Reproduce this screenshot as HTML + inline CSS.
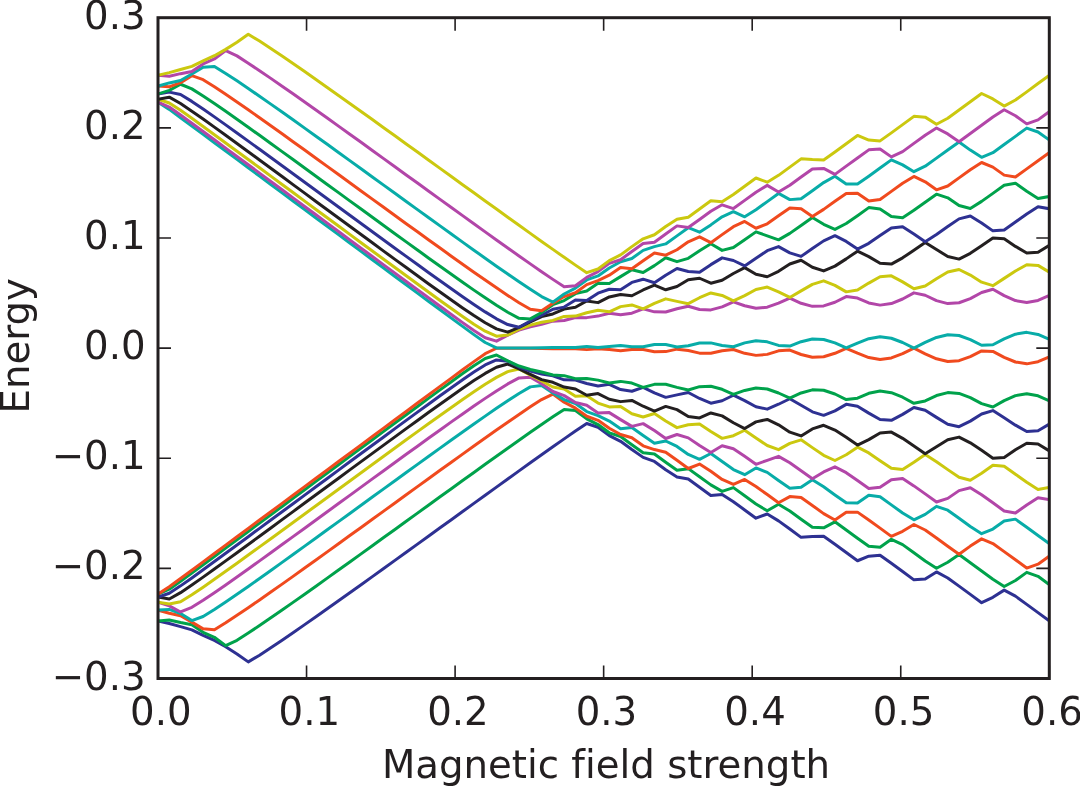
<!DOCTYPE html><html><head><meta charset="utf-8"><style>html,body{margin:0;padding:0;background:#fff;}svg{display:block;}text{font-family:"DejaVu Sans","Liberation Sans",sans-serif;fill:#231f20;font-variant-ligatures:none;font-feature-settings:"liga" 0,"clig" 0;}</style></head><body>
<svg width="1080" height="786" viewBox="0 0 1080 786">
<rect width="1080" height="786" fill="#fff"/>
<defs><clipPath id="c"><rect x="158.00" y="17.70" width="891.30" height="660.80"/></clipPath></defs>
<g clip-path="url(#c)" fill="none" stroke-width="3.0" stroke-linejoin="round" stroke-linecap="square">
<polyline stroke="#2e3192" points="158.00,621.01 169.28,623.54 180.56,626.64 191.85,629.83 203.13,635.31 214.41,640.48 225.69,646.81 236.98,653.95 248.26,661.88 259.54,655.19 270.82,647.77 282.11,640.17 293.39,632.44 304.67,624.62 315.95,616.72 327.23,608.77 338.52,600.78 349.80,592.75 361.08,584.69 372.36,576.61 383.65,568.51 394.93,560.39 406.21,552.26 417.49,544.12 428.77,535.98 440.06,527.83 451.34,519.68 462.62,511.53 473.90,503.39 485.19,495.25 496.47,487.12 507.75,479.00 519.03,470.90 530.32,462.83 541.60,454.79 552.88,446.80 564.16,438.88 575.44,431.07 586.73,423.50 598.01,427.21 609.29,435.56 620.57,441.29 631.86,449.56 643.14,457.36 654.42,461.44 665.70,469.70 676.98,476.91 688.27,479.03 699.55,487.22 710.83,495.50 722.11,494.42 733.40,501.70 744.68,509.93 755.96,518.21 767.24,514.02 778.53,520.86 789.81,529.07 801.09,537.34 812.37,536.61 823.65,536.19 834.94,544.24 846.22,552.48 857.50,560.76 868.78,556.13 880.07,555.31 891.35,563.33 902.63,571.58 913.91,579.85 925.19,579.06 936.48,571.91 947.76,577.95 959.04,586.14 970.32,594.41 981.61,602.69 992.89,597.31 1004.17,590.12 1015.45,596.15 1026.74,604.35 1038.02,612.62 1049.30,620.91"/>
<polyline stroke="#00a24b" points="158.00,621.01 169.28,619.93 180.56,622.54 191.85,624.70 203.13,632.27 214.41,637.28 225.69,645.61 236.98,640.32 248.26,633.04 259.54,625.51 270.82,617.82 282.11,610.02 293.39,602.13 304.67,594.18 315.95,586.17 327.23,578.13 338.52,570.06 349.80,561.97 361.08,553.86 372.36,545.73 383.65,537.59 394.93,529.44 406.21,521.29 417.49,513.14 428.77,504.99 440.06,496.84 451.34,488.69 462.62,480.56 473.90,472.44 485.19,464.34 496.47,456.27 507.75,448.23 519.03,440.24 530.32,432.32 541.60,424.50 552.88,416.83 564.16,409.46 575.44,410.50 586.73,418.81 598.01,424.56 609.29,432.83 620.57,436.46 631.86,444.70 643.14,452.79 654.42,454.01 665.70,462.23 676.98,470.32 688.27,468.65 699.55,476.70 710.83,484.89 722.11,491.38 733.40,487.62 744.68,495.83 755.96,504.01 767.24,510.83 778.53,504.21 789.81,510.98 801.09,519.19 812.37,527.25 823.65,527.81 834.94,521.82 846.22,530.04 857.50,538.26 868.78,546.33 880.07,547.24 891.35,539.34 902.63,544.59 913.91,552.83 925.19,561.02 936.48,568.24 947.76,562.28 959.04,554.52 970.32,562.76 981.61,571.01 992.89,579.21 1004.17,586.46 1015.45,580.48 1026.74,572.35 1038.02,576.33 1049.30,584.59"/>
<polyline stroke="#f04a1e" points="158.00,610.08 169.28,613.28 180.56,615.76 191.85,622.16 203.13,628.87 214.41,629.71 225.69,622.74 236.98,615.35 248.26,607.73 259.54,599.95 270.82,592.07 282.11,584.12 293.39,576.11 304.67,568.05 315.95,559.97 327.23,551.86 338.52,543.72 349.80,535.58 361.08,527.42 372.36,519.26 383.65,511.10 394.93,502.93 406.21,494.76 417.49,486.60 428.77,478.45 440.06,470.31 451.34,462.19 462.62,454.10 473.90,446.03 485.19,438.01 496.47,430.05 507.75,422.17 519.03,414.41 530.32,406.85 541.60,399.60 552.88,394.06 564.16,402.17 575.44,408.11 586.73,416.28 598.01,420.30 609.29,428.24 620.57,434.45 631.86,437.72 643.14,445.81 654.42,449.56 665.70,452.29 676.98,460.31 688.27,468.49 699.55,464.06 710.83,471.31 722.11,479.43 733.40,484.46 744.68,479.44 755.96,486.48 767.24,494.58 778.53,502.77 789.81,496.58 801.09,497.55 812.37,505.45 823.65,513.61 834.94,519.94 846.22,512.18 857.50,512.13 868.78,519.98 880.07,528.14 891.35,536.36 902.63,531.31 913.91,524.50 925.19,530.00 936.48,538.08 947.76,546.28 959.04,554.18 970.32,546.10 981.61,538.88 992.89,543.54 1004.17,551.62 1015.45,559.83 1026.74,568.07 1038.02,564.19 1049.30,556.18"/>
<polyline stroke="#08aca8" points="158.00,610.08 169.28,609.38 180.56,613.52 191.85,620.57 203.13,616.52 214.41,609.46 225.69,601.99 236.98,594.28 248.26,586.42 259.54,578.47 270.82,570.45 282.11,562.38 293.39,554.27 304.67,546.13 315.95,537.98 327.23,529.81 338.52,521.63 349.80,513.45 361.08,505.26 372.36,497.07 383.65,488.88 394.93,480.70 406.21,472.53 417.49,464.37 428.77,456.23 440.06,448.11 451.34,440.03 462.62,431.99 473.90,424.01 485.19,416.12 496.47,408.35 507.75,400.78 519.03,393.52 530.32,386.87 541.60,385.50 552.88,392.88 564.16,399.62 575.44,403.54 586.73,411.58 598.01,415.60 609.29,421.04 620.57,428.80 631.86,427.50 643.14,435.50 654.42,443.20 665.70,440.98 676.98,446.47 688.27,454.43 699.55,459.32 710.83,453.51 722.11,461.55 733.40,469.52 744.68,474.73 755.96,467.94 767.24,472.38 778.53,480.44 789.81,488.19 801.09,487.35 812.37,479.66 823.65,486.83 834.94,494.92 846.22,502.75 857.50,502.89 868.78,495.17 880.07,496.72 891.35,504.85 902.63,512.93 913.91,519.79 925.19,514.36 936.48,506.38 947.76,510.18 959.04,518.34 970.32,526.45 981.61,533.70 992.89,529.09 1004.17,521.08 1015.45,519.14 1026.74,527.33 1038.02,535.51 1049.30,543.54"/>
<polyline stroke="#b246a8" points="158.00,602.25 169.28,605.86 180.56,611.96 191.85,607.33 203.13,600.26 214.41,592.72 225.69,584.93 236.98,576.99 248.26,568.96 259.54,560.88 270.82,552.75 282.11,544.59 293.39,536.40 304.67,528.21 315.95,520.00 327.23,511.78 338.52,503.56 349.80,495.34 361.08,487.12 372.36,478.91 383.65,470.70 394.93,462.51 406.21,454.33 417.49,446.17 428.77,438.04 440.06,429.95 451.34,421.90 462.62,413.93 473.90,406.07 485.19,398.37 496.47,390.92 507.75,383.94 519.03,377.89 530.32,377.28 541.60,383.72 552.88,391.49 564.16,395.63 575.44,402.58 586.73,405.26 598.01,413.04 609.29,412.62 620.57,419.60 631.86,426.38 643.14,423.63 654.42,430.59 665.70,438.46 676.98,434.54 688.27,437.88 699.55,445.54 710.83,452.48 722.11,445.80 733.40,448.70 744.68,456.34 755.96,464.32 767.24,460.38 778.53,456.35 789.81,462.81 801.09,470.68 812.37,478.73 823.65,471.94 834.94,466.80 846.22,472.67 857.50,480.53 868.78,488.59 880.07,487.23 891.35,479.69 902.63,478.56 913.91,485.90 925.19,493.90 936.48,502.02 947.76,498.37 959.04,490.63 970.32,487.77 981.61,494.83 992.89,502.84 1004.17,510.97 1015.45,512.99 1026.74,504.97 1038.02,497.67 1049.30,499.69"/>
<polyline stroke="#cbc80f" points="158.00,602.25 169.28,604.09 180.56,601.75 191.85,594.80 203.13,587.21 214.41,579.34 225.69,571.33 236.98,563.24 248.26,555.09 259.54,546.90 270.82,538.69 282.11,530.46 293.39,522.22 304.67,513.97 315.95,505.72 327.23,497.46 338.52,489.21 349.80,480.95 361.08,472.71 372.36,464.47 383.65,456.24 394.93,448.02 406.21,439.83 417.49,431.66 428.77,423.53 440.06,415.44 451.34,407.43 462.62,399.52 473.90,391.78 485.19,384.32 496.47,377.40 507.75,371.62 519.03,368.98 530.32,375.24 541.60,380.95 552.88,387.00 564.16,389.10 575.44,396.25 586.73,395.75 598.01,403.05 609.29,406.92 620.57,406.43 631.86,413.77 643.14,417.01 654.42,413.47 665.70,420.95 676.98,427.64 688.27,424.70 699.55,423.97 710.83,431.56 722.11,438.35 733.40,435.68 744.68,430.25 755.96,437.94 767.24,445.52 778.53,449.63 789.81,443.38 801.09,439.83 812.37,447.63 823.65,455.32 834.94,460.49 846.22,454.75 857.50,447.14 868.78,452.90 880.07,460.77 891.35,468.29 902.63,469.45 913.91,462.23 925.19,454.44 936.48,461.68 947.76,469.62 959.04,477.32 970.32,480.20 981.61,473.21 992.89,465.34 1004.17,466.19 1015.45,474.21 1026.74,482.17 1038.02,489.45 1049.30,487.45"/>
<polyline stroke="#231f20" points="158.00,597.05 169.28,599.05 180.56,592.64 191.85,585.07 203.13,577.14 214.41,569.06 225.69,560.90 236.98,552.69 248.26,544.45 259.54,536.19 270.82,527.92 282.11,519.64 293.39,511.35 304.67,503.06 315.95,494.77 327.23,486.48 338.52,478.20 349.80,469.91 361.08,461.64 372.36,453.37 383.65,445.11 394.93,436.86 406.21,428.64 417.49,420.44 428.77,412.28 440.06,404.18 451.34,396.16 462.62,388.27 473.90,380.61 485.19,373.41 496.47,367.27 507.75,364.04 519.03,368.89 530.32,374.28 541.60,379.66 552.88,382.26 564.16,387.08 575.44,388.98 586.73,395.27 598.01,393.56 609.29,399.24 620.57,401.63 631.86,400.42 643.14,406.24 654.42,411.05 665.70,406.42 676.98,409.65 688.27,416.50 699.55,417.95 710.83,412.99 722.11,415.89 733.40,422.74 744.68,428.56 755.96,421.87 767.24,419.45 778.53,424.86 789.81,432.16 801.09,435.94 812.37,428.93 823.65,425.30 834.94,430.07 846.22,437.33 857.50,445.04 868.78,439.60 880.07,432.94 891.35,432.10 902.63,438.36 913.91,445.91 925.19,453.74 936.48,446.74 947.76,439.67 959.04,437.11 970.32,442.83 981.61,450.35 992.89,458.21 1004.17,457.45 1015.45,449.78 1026.74,443.26 1038.02,443.98 1049.30,450.84"/>
<polyline stroke="#2e3192" points="158.00,597.05 169.28,593.24 180.56,585.86 191.85,577.90 203.13,569.75 214.41,561.53 225.69,553.27 236.98,544.98 248.26,536.69 259.54,528.38 270.82,520.06 282.11,511.74 293.39,503.42 304.67,495.10 315.95,486.78 327.23,478.46 338.52,470.15 349.80,461.83 361.08,453.52 372.36,445.22 383.65,436.93 394.93,428.65 406.21,420.38 417.49,412.14 428.77,403.93 440.06,395.76 451.34,387.68 462.62,379.72 473.90,372.03 485.19,364.98 496.47,359.99 507.75,361.15 519.03,366.98 530.32,371.12 541.60,374.02 552.88,375.80 564.16,379.79 575.44,380.09 586.73,383.50 598.01,385.99 609.29,384.35 620.57,389.59 631.86,391.29 643.14,387.38 654.42,392.87 665.70,397.34 676.98,394.86 688.27,392.52 699.55,398.49 710.83,403.22 722.11,400.76 733.40,395.23 744.68,400.56 755.96,406.75 767.24,409.14 778.53,404.23 789.81,398.75 801.09,405.28 812.37,411.81 823.65,415.34 834.94,410.84 846.22,404.34 857.50,406.20 868.78,413.12 880.07,419.49 891.35,420.33 902.63,414.35 913.91,407.49 925.19,410.22 936.48,417.37 947.76,424.17 959.04,426.68 970.32,421.11 981.61,414.03 992.89,410.56 1004.17,417.83 1015.45,425.15 1026.74,431.51 1038.02,430.79 1049.30,424.12"/>
<polyline stroke="#00a24b" points="158.00,594.10 169.28,589.17 180.56,581.22 191.85,573.02 203.13,564.74 214.41,556.43 225.69,548.11 236.98,539.78 248.26,531.44 259.54,523.10 270.82,514.76 282.11,506.42 293.39,498.07 304.67,489.73 315.95,481.38 327.23,473.04 338.52,464.70 349.80,456.36 361.08,448.02 372.36,439.69 383.65,431.36 394.93,423.04 406.21,414.72 417.49,406.42 428.77,398.14 440.06,389.89 451.34,381.69 462.62,373.59 473.90,365.69 485.19,358.45 496.47,355.03 507.75,360.95 519.03,366.04 530.32,369.43 541.60,372.02 552.88,375.04 564.16,375.65 575.44,378.63 586.73,378.57 598.01,380.12 609.29,382.99 620.57,381.39 631.86,383.05 643.14,387.33 654.42,384.33 665.70,384.27 676.98,387.38 688.27,390.01 699.55,386.64 710.83,386.32 722.11,389.28 733.40,394.40 744.68,390.45 755.96,388.00 767.24,389.00 778.53,393.01 789.81,398.15 801.09,392.93 812.37,389.87 823.65,390.27 834.94,393.97 846.22,399.61 857.50,398.16 868.78,393.27 880.07,391.08 891.35,392.65 902.63,397.20 913.91,403.34 925.19,400.97 936.48,395.57 947.76,392.59 959.04,393.43 970.32,397.63 981.61,403.67 992.89,407.00 1004.17,400.58 1015.45,395.61 1026.74,393.66 1038.02,395.78 1049.30,400.84"/>
<polyline stroke="#f04a1e" points="158.00,594.10 169.28,586.79 180.56,578.52 191.85,570.19 203.13,561.85 214.41,553.50 225.69,545.15 236.98,536.79 248.26,528.43 259.54,520.07 270.82,511.71 282.11,503.35 293.39,494.99 304.67,486.63 315.95,478.27 327.23,469.92 338.52,461.56 349.80,453.20 361.08,444.84 372.36,436.49 383.65,428.13 394.93,419.78 406.21,411.43 417.49,403.08 428.77,394.74 440.06,386.41 451.34,378.09 462.62,369.81 473.90,361.61 485.19,353.70 496.47,348.25 507.75,348.13 519.03,348.22 530.32,348.20 541.60,348.44 552.88,348.63 564.16,348.79 575.44,348.70 586.73,349.63 598.01,348.64 609.29,349.61 620.57,350.64 631.86,349.40 643.14,349.48 654.42,351.66 665.70,351.61 676.98,349.14 688.27,350.51 699.55,353.13 710.83,353.29 722.11,350.73 733.40,349.48 744.68,353.32 755.96,355.37 767.24,354.38 778.53,350.81 789.81,350.08 801.09,354.51 812.37,357.19 823.65,356.73 834.94,353.29 846.22,348.30 857.50,353.16 868.78,357.55 880.07,359.52 891.35,357.97 902.63,353.68 913.91,348.13 925.19,353.81 936.48,358.77 947.76,361.53 959.04,360.67 970.32,356.62 981.61,350.96 992.89,351.41 1004.17,357.33 1015.45,362.01 1026.74,363.85 1038.02,361.74 1049.30,356.84"/>
<polyline stroke="#08aca8" points="158.00,102.10 169.28,109.41 180.56,117.68 191.85,126.01 203.13,134.35 214.41,142.70 225.69,151.05 236.98,159.41 248.26,167.77 259.54,176.13 270.82,184.49 282.11,192.85 293.39,201.21 304.67,209.57 315.95,217.93 327.23,226.28 338.52,234.64 349.80,243.00 361.08,251.36 372.36,259.71 383.65,268.07 394.93,276.42 406.21,284.77 417.49,293.12 428.77,301.46 440.06,309.79 451.34,318.11 462.62,326.39 473.90,334.59 485.19,342.50 496.47,347.95 507.75,348.07 519.03,347.98 530.32,348.00 541.60,347.76 552.88,347.57 564.16,347.41 575.44,347.50 586.73,346.57 598.01,347.56 609.29,346.59 620.57,345.56 631.86,346.80 643.14,346.72 654.42,344.54 665.70,344.59 676.98,347.06 688.27,345.69 699.55,343.07 710.83,342.91 722.11,345.47 733.40,346.72 744.68,342.88 755.96,340.83 767.24,341.82 778.53,345.39 789.81,346.12 801.09,341.69 812.37,339.01 823.65,339.47 834.94,342.91 846.22,347.90 857.50,343.04 868.78,338.65 880.07,336.68 891.35,338.23 902.63,342.52 913.91,348.07 925.19,342.39 936.48,337.43 947.76,334.67 959.04,335.53 970.32,339.58 981.61,345.24 992.89,344.79 1004.17,338.87 1015.45,334.19 1026.74,332.35 1038.02,334.46 1049.30,339.36"/>
<polyline stroke="#b246a8" points="158.00,102.10 169.28,107.03 180.56,114.98 191.85,123.18 203.13,131.46 214.41,139.77 225.69,148.09 236.98,156.42 248.26,164.76 259.54,173.10 270.82,181.44 282.11,189.78 293.39,198.13 304.67,206.47 315.95,214.82 327.23,223.16 338.52,231.50 349.80,239.84 361.08,248.18 372.36,256.51 383.65,264.84 394.93,273.16 406.21,281.48 417.49,289.78 428.77,298.06 440.06,306.31 451.34,314.51 462.62,322.61 473.90,330.51 485.19,337.75 496.47,341.17 507.75,335.25 519.03,330.16 530.32,326.77 541.60,324.18 552.88,321.16 564.16,320.55 575.44,317.57 586.73,317.63 598.01,316.08 609.29,313.21 620.57,314.81 631.86,313.15 643.14,308.87 654.42,311.87 665.70,311.93 676.98,308.82 688.27,306.19 699.55,309.56 710.83,309.88 722.11,306.92 733.40,301.80 744.68,305.75 755.96,308.20 767.24,307.20 778.53,303.19 789.81,298.05 801.09,303.27 812.37,306.33 823.65,305.93 834.94,302.23 846.22,296.59 857.50,298.04 868.78,302.93 880.07,305.12 891.35,303.55 902.63,299.00 913.91,292.86 925.19,295.23 936.48,300.63 947.76,303.61 959.04,302.77 970.32,298.57 981.61,292.53 992.89,289.20 1004.17,295.62 1015.45,300.59 1026.74,302.54 1038.02,300.42 1049.30,295.36"/>
<polyline stroke="#cbc80f" points="158.00,99.15 169.28,102.96 180.56,110.34 191.85,118.30 203.13,126.45 214.41,134.67 225.69,142.93 236.98,151.22 248.26,159.51 259.54,167.82 270.82,176.14 282.11,184.46 293.39,192.78 304.67,201.10 315.95,209.42 327.23,217.74 338.52,226.05 349.80,234.37 361.08,242.68 372.36,250.98 383.65,259.27 394.93,267.55 406.21,275.82 417.49,284.06 428.77,292.27 440.06,300.44 451.34,308.52 462.62,316.48 473.90,324.17 485.19,331.22 496.47,336.21 507.75,335.05 519.03,329.22 530.32,325.08 541.60,322.18 552.88,320.40 564.16,316.41 575.44,316.11 586.73,312.70 598.01,310.21 609.29,311.85 620.57,306.61 631.86,304.91 643.14,308.82 654.42,303.33 665.70,298.86 676.98,301.34 688.27,303.68 699.55,297.71 710.83,292.98 722.11,295.44 733.40,300.97 744.68,295.64 755.96,289.45 767.24,287.06 778.53,291.97 789.81,297.45 801.09,290.92 812.37,284.39 823.65,280.86 834.94,285.36 846.22,291.86 857.50,290.00 868.78,283.08 880.07,276.71 891.35,275.87 902.63,281.85 913.91,288.71 925.19,285.98 936.48,278.83 947.76,272.03 959.04,269.52 970.32,275.09 981.61,282.17 992.89,285.64 1004.17,278.37 1015.45,271.05 1026.74,264.69 1038.02,265.41 1049.30,272.08"/>
<polyline stroke="#231f20" points="158.00,99.15 169.28,97.15 180.56,103.56 191.85,111.13 203.13,119.06 214.41,127.14 225.69,135.30 236.98,143.51 248.26,151.75 259.54,160.01 270.82,168.28 282.11,176.56 293.39,184.85 304.67,193.14 315.95,201.43 327.23,209.72 338.52,218.00 349.80,226.29 361.08,234.56 372.36,242.83 383.65,251.09 394.93,259.34 406.21,267.56 417.49,275.76 428.77,283.92 440.06,292.02 451.34,300.04 462.62,307.93 473.90,315.59 485.19,322.79 496.47,328.93 507.75,332.16 519.03,327.31 530.32,321.92 541.60,316.54 552.88,313.94 564.16,309.12 575.44,307.22 586.73,300.93 598.01,302.64 609.29,296.96 620.57,294.57 631.86,295.78 643.14,289.96 654.42,285.15 665.70,289.78 676.98,286.55 688.27,279.70 699.55,278.25 710.83,283.21 722.11,280.31 733.40,273.46 744.68,267.64 755.96,274.33 767.24,276.75 778.53,271.34 789.81,264.04 801.09,260.26 812.37,267.27 823.65,270.90 834.94,266.13 846.22,258.87 857.50,251.16 868.78,256.60 880.07,263.26 891.35,264.10 902.63,257.84 913.91,250.29 925.19,242.46 936.48,249.46 947.76,256.53 959.04,259.09 970.32,253.37 981.61,245.85 992.89,237.99 1004.17,238.75 1015.45,246.42 1026.74,252.94 1038.02,252.22 1049.30,245.36"/>
<polyline stroke="#2e3192" points="158.00,93.95 169.28,92.11 180.56,94.45 191.85,101.40 203.13,108.99 214.41,116.86 225.69,124.87 236.98,132.96 248.26,141.11 259.54,149.30 270.82,157.51 282.11,165.74 293.39,173.98 304.67,182.23 315.95,190.48 327.23,198.74 338.52,206.99 349.80,215.25 361.08,223.49 372.36,231.73 383.65,239.96 394.93,248.18 406.21,256.37 417.49,264.54 428.77,272.67 440.06,280.76 451.34,288.77 462.62,296.68 473.90,304.42 485.19,311.88 496.47,318.80 507.75,324.58 519.03,327.22 530.32,320.96 541.60,315.25 552.88,309.20 564.16,307.10 575.44,299.95 586.73,300.45 598.01,293.15 609.29,289.28 620.57,289.77 631.86,282.43 643.14,279.19 654.42,282.73 665.70,275.25 676.98,268.56 688.27,271.50 699.55,272.23 710.83,264.64 722.11,257.85 733.40,260.52 744.68,265.95 755.96,258.26 767.24,250.68 778.53,246.57 789.81,252.82 801.09,256.37 812.37,248.57 823.65,240.88 834.94,235.71 846.22,241.45 857.50,249.06 868.78,243.30 880.07,235.43 891.35,227.91 902.63,226.75 913.91,233.97 925.19,241.76 936.48,234.52 947.76,226.58 959.04,218.88 970.32,216.00 981.61,222.99 992.89,230.86 1004.17,230.01 1015.45,221.99 1026.74,214.03 1038.02,206.75 1049.30,208.75"/>
<polyline stroke="#00a24b" points="158.00,93.95 169.28,90.34 180.56,84.24 191.85,88.87 203.13,95.94 214.41,103.48 225.69,111.27 236.98,119.21 248.26,127.24 259.54,135.32 270.82,143.45 282.11,151.61 293.39,159.80 304.67,167.99 315.95,176.20 327.23,184.42 338.52,192.64 349.80,200.86 361.08,209.08 372.36,217.29 383.65,225.50 394.93,233.69 406.21,241.87 417.49,250.03 428.77,258.16 440.06,266.25 451.34,274.30 462.62,282.27 473.90,290.13 485.19,297.83 496.47,305.28 507.75,312.26 519.03,318.31 530.32,318.92 541.60,312.48 552.88,304.71 564.16,300.57 575.44,293.62 586.73,290.94 598.01,283.16 609.29,283.58 620.57,276.60 631.86,269.82 643.14,272.57 654.42,265.61 665.70,257.74 676.98,261.66 688.27,258.32 699.55,250.66 710.83,243.72 722.11,250.40 733.40,247.50 744.68,239.86 755.96,231.88 767.24,235.82 778.53,239.85 789.81,233.39 801.09,225.52 812.37,217.47 823.65,224.26 834.94,229.40 846.22,223.53 857.50,215.67 868.78,207.61 880.07,208.97 891.35,216.51 902.63,217.64 913.91,210.30 925.19,202.30 936.48,194.18 947.76,197.83 959.04,205.57 970.32,208.43 981.61,201.37 992.89,193.36 1004.17,185.23 1015.45,183.21 1026.74,191.23 1038.02,198.53 1049.30,196.51"/>
<polyline stroke="#f04a1e" points="158.00,86.12 169.28,86.82 180.56,82.68 191.85,75.63 203.13,79.68 214.41,86.74 225.69,94.21 236.98,101.92 248.26,109.78 259.54,117.73 270.82,125.75 282.11,133.82 293.39,141.93 304.67,150.07 315.95,158.22 327.23,166.39 338.52,174.57 349.80,182.75 361.08,190.94 372.36,199.13 383.65,207.32 394.93,215.50 406.21,223.67 417.49,231.83 428.77,239.97 440.06,248.09 451.34,256.17 462.62,264.21 473.90,272.19 485.19,280.08 496.47,287.85 507.75,295.42 519.03,302.68 530.32,309.33 541.60,310.70 552.88,303.32 564.16,296.58 575.44,292.66 586.73,284.62 598.01,280.60 609.29,275.16 620.57,267.40 631.86,268.70 643.14,260.70 654.42,253.00 665.70,255.22 676.98,249.73 688.27,241.77 699.55,236.88 710.83,242.69 722.11,234.65 733.40,226.68 744.68,221.47 755.96,228.26 767.24,223.82 778.53,215.76 789.81,208.01 801.09,208.85 812.37,216.54 823.65,209.37 834.94,201.28 846.22,193.45 857.50,193.31 868.78,201.03 880.07,199.48 891.35,191.35 902.63,183.27 913.91,176.41 925.19,181.84 936.48,189.82 947.76,186.02 959.04,177.86 970.32,169.75 981.61,162.50 992.89,167.11 1004.17,175.12 1015.45,177.06 1026.74,168.87 1038.02,160.69 1049.30,152.66"/>
<polyline stroke="#08aca8" points="158.00,86.12 169.28,82.92 180.56,80.44 191.85,74.04 203.13,67.33 214.41,66.49 225.69,73.46 236.98,80.85 248.26,88.47 259.54,96.25 270.82,104.13 282.11,112.08 293.39,120.09 304.67,128.15 315.95,136.23 327.23,144.34 338.52,152.48 349.80,160.62 361.08,168.78 372.36,176.94 383.65,185.10 394.93,193.27 406.21,201.44 417.49,209.60 428.77,217.75 440.06,225.89 451.34,234.01 462.62,242.10 473.90,250.17 485.19,258.19 496.47,266.15 507.75,274.03 519.03,281.79 530.32,289.35 541.60,296.60 552.88,302.14 564.16,294.03 575.44,288.09 586.73,279.92 598.01,275.90 609.29,267.96 620.57,261.75 631.86,258.48 643.14,250.39 654.42,246.64 665.70,243.91 676.98,235.89 688.27,227.71 699.55,232.14 710.83,224.89 722.11,216.77 733.40,211.74 744.68,216.76 755.96,209.72 767.24,201.62 778.53,193.43 789.81,199.62 801.09,198.65 812.37,190.75 823.65,182.59 834.94,176.26 846.22,184.02 857.50,184.07 868.78,176.22 880.07,168.06 891.35,159.84 902.63,164.89 913.91,171.70 925.19,166.20 936.48,158.12 947.76,149.92 959.04,142.02 970.32,150.10 981.61,157.32 992.89,152.66 1004.17,144.58 1015.45,136.37 1026.74,128.13 1038.02,132.01 1049.30,140.02"/>
<polyline stroke="#b246a8" points="158.00,75.19 169.28,76.27 180.56,73.66 191.85,71.50 203.13,63.93 214.41,58.92 225.69,50.59 236.98,55.88 248.26,63.16 259.54,70.69 270.82,78.38 282.11,86.18 293.39,94.07 304.67,102.02 315.95,110.03 327.23,118.07 338.52,126.14 349.80,134.23 361.08,142.34 372.36,150.47 383.65,158.61 394.93,166.76 406.21,174.91 417.49,183.06 428.77,191.21 440.06,199.36 451.34,207.51 462.62,215.64 473.90,223.76 485.19,231.86 496.47,239.93 507.75,247.97 519.03,255.96 530.32,263.88 541.60,271.70 552.88,279.37 564.16,286.74 575.44,285.70 586.73,277.39 598.01,271.64 609.29,263.37 620.57,259.74 631.86,251.50 643.14,243.41 654.42,242.19 665.70,233.97 676.98,225.88 688.27,227.55 699.55,219.50 710.83,211.31 722.11,204.82 733.40,208.58 744.68,200.37 755.96,192.19 767.24,185.37 778.53,191.99 789.81,185.22 801.09,177.01 812.37,168.95 823.65,168.39 834.94,174.38 846.22,166.16 857.50,157.94 868.78,149.87 880.07,148.96 891.35,156.86 902.63,151.61 913.91,143.37 925.19,135.18 936.48,127.96 947.76,133.92 959.04,141.68 970.32,133.44 981.61,125.19 992.89,116.99 1004.17,109.74 1015.45,115.72 1026.74,123.85 1038.02,119.87 1049.30,111.61"/>
<polyline stroke="#cbc80f" points="158.00,75.19 169.28,72.66 180.56,69.56 191.85,66.37 203.13,60.89 214.41,55.72 225.69,49.39 236.98,42.25 248.26,34.32 259.54,41.01 270.82,48.43 282.11,56.03 293.39,63.76 304.67,71.58 315.95,79.48 327.23,87.43 338.52,95.42 349.80,103.45 361.08,111.51 372.36,119.59 383.65,127.69 394.93,135.81 406.21,143.94 417.49,152.08 428.77,160.22 440.06,168.37 451.34,176.52 462.62,184.67 473.90,192.81 485.19,200.95 496.47,209.08 507.75,217.20 519.03,225.30 530.32,233.37 541.60,241.41 552.88,249.40 564.16,257.32 575.44,265.13 586.73,272.70 598.01,268.99 609.29,260.64 620.57,254.91 631.86,246.64 643.14,238.84 654.42,234.76 665.70,226.50 676.98,219.29 688.27,217.17 699.55,208.98 710.83,200.70 722.11,201.78 733.40,194.50 744.68,186.27 755.96,177.99 767.24,182.18 778.53,175.34 789.81,167.13 801.09,158.86 812.37,159.59 823.65,160.01 834.94,151.96 846.22,143.72 857.50,135.44 868.78,140.07 880.07,140.89 891.35,132.87 902.63,124.62 913.91,116.35 925.19,117.14 936.48,124.29 947.76,118.25 959.04,110.06 970.32,101.79 981.61,93.51 992.89,98.89 1004.17,106.08 1015.45,100.05 1026.74,91.85 1038.02,83.58 1049.30,75.29"/>
</g>
<path d="M158.00 678.50V665.50M158.00 17.70V30.70M306.55 678.50V665.50M306.55 17.70V30.70M455.10 678.50V665.50M455.10 17.70V30.70M603.65 678.50V665.50M603.65 17.70V30.70M752.20 678.50V665.50M752.20 17.70V30.70M900.75 678.50V665.50M900.75 17.70V30.70M1049.30 678.50V665.50M1049.30 17.70V30.70M158.00 17.70H171.00M1049.30 17.70H1036.30M158.00 127.83H171.00M1049.30 127.83H1036.30M158.00 237.97H171.00M1049.30 237.97H1036.30M158.00 348.10H171.00M1049.30 348.10H1036.30M158.00 458.23H171.00M1049.30 458.23H1036.30M158.00 568.37H171.00M1049.30 568.37H1036.30M158.00 678.50H171.00M1049.30 678.50H1036.30" stroke="#231f20" stroke-width="1.6" fill="none"/>
<rect x="158.00" y="17.70" width="891.30" height="660.80" fill="none" stroke="#231f20" stroke-width="3.0"/>
<text x="145.60" y="28.70" font-size="38.7" text-anchor="end">0.3</text>
<text x="145.60" y="138.83" font-size="38.7" text-anchor="end">0.2</text>
<text x="145.60" y="248.97" font-size="38.7" text-anchor="end">0.1</text>
<text x="145.60" y="359.10" font-size="38.7" text-anchor="end">0.0</text>
<text x="145.60" y="469.23" font-size="38.7" text-anchor="end">−0.1</text>
<text x="145.60" y="579.37" font-size="38.7" text-anchor="end">−0.2</text>
<text x="145.60" y="689.50" font-size="38.7" text-anchor="end">−0.3</text>
<text x="160.80" y="725.00" font-size="38.7" text-anchor="middle">0.0</text>
<text x="309.35" y="725.00" font-size="38.7" text-anchor="middle">0.1</text>
<text x="457.90" y="725.00" font-size="38.7" text-anchor="middle">0.2</text>
<text x="606.45" y="725.00" font-size="38.7" text-anchor="middle">0.3</text>
<text x="755.00" y="725.00" font-size="38.7" text-anchor="middle">0.4</text>
<text x="903.55" y="725.00" font-size="38.7" text-anchor="middle">0.5</text>
<text x="1052.10" y="725.00" font-size="38.7" text-anchor="middle">0.6</text>
<text x="606.00" y="778.00" font-size="38.7" text-anchor="middle">Magnetic field strength</text>
<text transform="translate(29.00 345.80) rotate(-90)" font-size="38.7" text-anchor="middle">Energy</text>
</svg></body></html>
